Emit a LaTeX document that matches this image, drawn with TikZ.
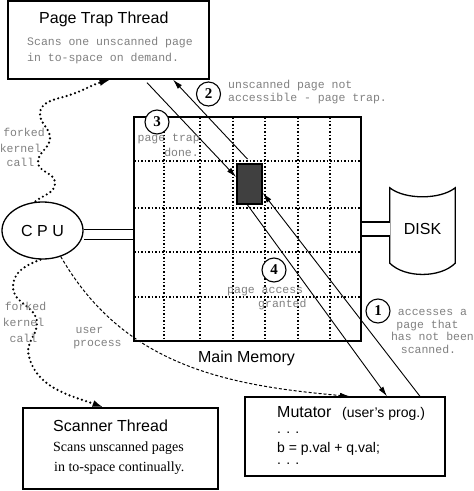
\documentclass[tikz,border=0pt]{standalone}
\usepackage{fontspec}
\setmainfont{Liberation Serif}
\setsansfont{Liberation Sans}
\setmonofont{Liberation Mono}
\usetikzlibrary{arrows.meta,shapes.geometric}
\definecolor{notegray}{gray}{0.5}
\definecolor{pagefill}{gray}{0.25}

\begin{document}
\begin{tikzpicture}[x=1pt,y=-1pt,
	box/.style={draw, rectangle, line width=1.3pt, inner sep=0pt},
	head/.style={font=\sffamily\fontsize{16}{19}\selectfont, inner sep=0pt},
	prog/.style={font=\sffamily\fontsize{14}{17}\selectfont, inner sep=0pt},
	body/.style={font=\fontsize{14}{17}\selectfont, inner sep=0pt},
	note/.style={font=\ttfamily\fontsize{11.5}{14}\selectfont, text=notegray, inner sep=0pt},
	num/.style={circle, draw, line width=1.1pt, fill=white, minimum size=24pt, inner sep=0pt, font=\bfseries\fontsize{15}{15}\selectfont},
	arr/.style={-{Latex[length=10pt,width=5.5pt]}, line width=0.9pt},
	kern/.style={-{Latex[length=11pt,width=7pt]}, line width=2.4pt, line cap=round, dash pattern=on 0pt off 4.4pt},
	usr/.style={-{Latex[length=10pt,width=5.5pt]}, line width=1pt, dash pattern=on 3pt off 2pt},
	bus/.style={double, line width=1.6pt, double distance=8.4pt},
	gridln/.style={line width=1.1pt, dash pattern=on 1.5pt off 2pt}]

	\useasboundingbox (0,0) rectangle (474,491);

	% Memoria
	\foreach \x in {164,200,233,265,298,330}
		\draw[gridln] (\x,117) -- (\x,341);
	\foreach \y in {161,208,252,297}
		\draw[gridln] (134,\y) -- (361,\y);
	\node[box, minimum width=227pt, minimum height=224pt] (mem) at (247.5,229) {};
	\node[draw, line width=1.8pt, fill=pagefill, minimum width=25pt, minimum height=40pt, inner sep=0pt] (page) at (249.5,184) {};
	\node[head, anchor=base] (memname) at (246.5,362) {Main Memory};

	% Nodos
	\node[box, minimum width=201pt, minimum height=78pt] (ptt) at (108.5,40) {};
	\node[box, minimum width=195pt, minimum height=81pt] (scan) at (120.5,448.5) {};
	\node[box, minimum width=200pt, minimum height=79pt] (mut) at (345,436.5) {};
	\node[ellipse, draw, line width=1.3pt, minimum width=81pt, minimum height=57pt, inner sep=0pt, head] (cpu) at (42.5,230.5) {C P U};
	\node[head, minimum width=65pt, minimum height=82pt] (disk) at (422.5,229) {DISK};
	\draw[line width=1.3pt] (disk.north west) .. controls +(15,12) and +(-15,12) .. (disk.north east)
		-- ([yshift=7pt]disk.south east) .. controls +(-15,15) and +(15,15) .. ([yshift=7pt]disk.south west) -- cycle;

	% Textos de las cajas
	\node[head, anchor=base west] (pttname) at (39,23) {Page Trap Thread};
	\node[note, anchor=base west] (pttline1) at (27,45) {Scans one unscanned page};
	\node[note, anchor=base west] (pttline2) at (27,61.5) {in to-space on demand.};
	\node[head, anchor=base west] (scanname) at (53,431.5) {Scanner Thread};
	\node[body, anchor=base west] (scanline1) at (53,451.5) {Scans unscanned pages};
	\node[body, anchor=base west] (scanline2) at (54,471) {in to-space continually.};
	\node[head, anchor=base west] (mutname) at (277,417) {Mutator};
	\node[prog, anchor=base west] (mutuser) at (342,417) {(user's prog.)};
	\node[prog, anchor=base west] (mutdots1) at (277,433) {. . .};
	\node[prog, anchor=base west] (mutcode) at (277,452) {b = p.val + q.val;};
	\node[prog, anchor=base west] (mutdots2) at (277,464) {. . .};

	% Aristas
	\draw[bus] ([yshift=-4pt]cpu.east) -- ([yshift=-4pt]cpu.east -| mem.west);
	\draw[bus, double distance=12pt] (disk.west -| mem.east) -- (disk.west);
	\draw[arr] ([xshift=75pt]mut.north) -- ([yshift=-9pt]page.east);
	\draw[arr] ([xshift=-2pt]page.south) -- ([xshift=42pt]mut.north);
	\draw[arr] ([xshift=-2pt,yshift=4pt]page.north) -- ([xshift=64.5pt]ptt.south);
	\draw[arr] ([xshift=38.5pt,yshift=-3pt]ptt.south) -- ([yshift=7pt]page.west);
	\draw[kern] ([xshift=-7pt]cpu.north) to[out=40,in=-90] (55,183) to[out=90,in=-90] (38,162)
		to[out=90,in=-90] (50,138) to[out=90,in=-90] (40,114) to[out=90,in=195] (63,97)
		to[out=15,in=195] ([xshift=2pt]ptt.south);
	\draw[kern] ([xshift=-2pt]cpu.south) to[out=200,in=90] (13,287) to[out=-90,in=90] (37,323)
		to[out=-90,in=90] (28,352) to[out=-80,in=160] ([xshift=-17pt]scan.north);
	\draw[usr] (cpu.-55) to[out=-60,in=175] ([xshift=5pt]mut.north);

	% Pasos
	\node[num] (step1) at (378,311) {1};
	\node[num] (step2) at (208.5,94) {2};
	\node[num] (step3) at (157,122) {3};
	\node[num] (step4) at (274,270) {4};

	% Etiquetas
	\node[note, anchor=base west] (trapa) at (228,88) {unscanned page not};
	\node[note, anchor=base west] (trapb) at (228,101.5) {accessible - page trap.};
	\node[note, anchor=base east] (donea) at (200,141.5) {page trap};
	\node[note, anchor=base east] (doneb) at (199,156) {done.};
	\node[note, anchor=base west] (granta) at (227,293.5) {page access};
	\node[note, anchor=base west] (grantb) at (258,307.5) {granted};
	\node[note, anchor=base] (acca) at (432.5,315) {accesses a};
	\node[note, anchor=base] (accb) at (427.5,328) {page that};
	\node[note, anchor=base] (accc) at (432.5,340.7) {has not been};
	\node[note, anchor=base] (accd) at (428.5,353) {scanned.};
	\node[note, anchor=base] (forka) at (24,136) {forked};
	\node[note, anchor=base] (forkb) at (20.5,152.7) {kernel};
	\node[note, anchor=base] (forkc) at (20.5,166) {call};
	\node[note, anchor=base] (forkd) at (25.5,310) {forked};
	\node[note, anchor=base] (forke) at (23.5,326) {kernel};
	\node[note, anchor=base] (forkf) at (23.5,342.7) {call};
	\node[note, anchor=base] (usera) at (89.5,333) {user};
	\node[note, anchor=base] (userb) at (97.5,346) {process};

\end{tikzpicture}
\end{document}
